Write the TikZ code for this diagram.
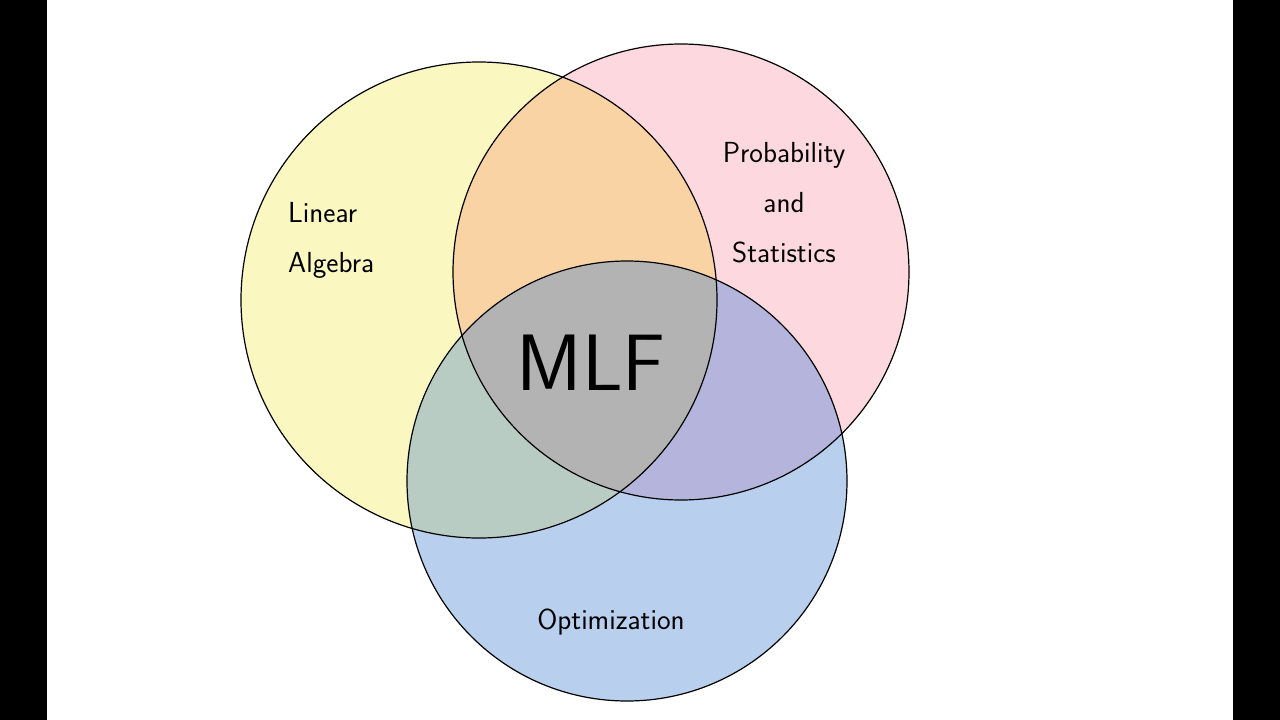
\documentclass[tikz,border=0pt]{standalone}
\begin{document}
\begin{tikzpicture}[x=1pt,y=-1pt,
  lbl/.style={font=\sffamily\fontsize{29}{50}\selectfont,inner sep=0pt}]
\useasboundingbox (0,0) rectangle (1280,720);
\fill[black] (0,0) rectangle (1280,720);
\fill[white] (47,0) rectangle (1233,720);
\def\cy{(479,300) circle[radius=238]}
\def\cp{(681,272) circle[radius=228]}
\def\cb{(627,481) circle[radius=220]}
\definecolor{cY}{HTML}{FBF7C0}
\definecolor{cP}{HTML}{FDD8DF}
\definecolor{cB}{HTML}{B8D0EE}
\definecolor{cYP}{HTML}{FAD3A5}
\definecolor{cYB}{HTML}{B8CCC4}
\definecolor{cPB}{HTML}{B4B4DC}
\definecolor{cA}{HTML}{B3B3B3}
\fill[cY] \cy; \fill[cP] \cp; \fill[cB] \cb;
\begin{scope}\clip \cy; \fill[cYP] \cp; \fill[cYB] \cb; \end{scope}
\begin{scope}\clip \cp; \fill[cPB] \cb; \end{scope}
\begin{scope}\clip \cy; \clip \cp; \fill[cA] \cb; \end{scope}
\draw[line width=1.2pt] \cy; \draw[line width=1.2pt] \cp; \draw[line width=1.2pt] \cb;
\node[lbl,align=left,anchor=west] (la) at (288,240) {Linear\\Algebra};
\node[lbl,align=center] (ps) at (784,203) {Probability\\and\\Statistics};
\node[lbl] (op) at (611,622) {Optimization};
\node[font=\sffamily\fontsize{80}{90}\selectfont,inner sep=0pt] (mlf) at (591,363) {MLF};
\end{tikzpicture}
\end{document}
